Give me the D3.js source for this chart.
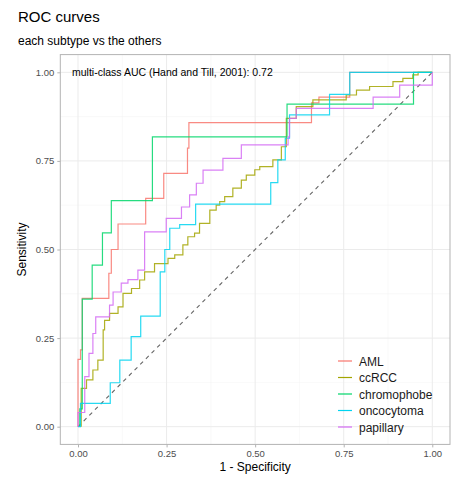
<!DOCTYPE html><html><head><script src="https://cdn.jsdelivr.net/npm/d3@7"></script>
<style>body{margin:0;background:#fff}text{font-family:"Liberation Sans",Arial,sans-serif}</style></head><body><svg id="c" width="474" height="487"></svg>
<script>
const categories=["AML","ccRCC","chromophobe","oncocytoma","papillary"];
const colors=["#F8766D","#A3A500","#00D66A","#00D4F0","#D46BF3"];
const xTicks=[0,0.25,0.5,0.75,1], xTickLabels=["0.00","0.25","0.50","0.75","1.00"];
const yTicks=[0,0.25,0.5,0.75,1], yTickLabels=["0.00","0.25","0.50","0.75","1.00"];
// step points: [fpr where jump occurs, new sensitivity]
const AML=[[0,0],[0,0.19],[0.007,0.217],[0.012,0.362],[0.087,0.362],[0.087,0.433],[0.094,0.5],[0.113,0.572],[0.191,0.644],[0.242,0.715],[0.309,0.786],[0.313,0.858],[0.659,0.914],[0.68,0.93],[0.767,1],[1,1]];
const ccRCC=[[0.009,0],[0.009,0.108],[0.024,0.132],[0.042,0.16],[0.056,0.188],[0.071,0.273],[0.075,0.3],[0.089,0.32],[0.113,0.338],[0.127,0.376],[0.151,0.39],[0.174,0.414],[0.188,0.437],[0.216,0.46],[0.254,0.475],[0.273,0.485],[0.296,0.513],[0.31,0.536],[0.329,0.546],[0.343,0.574],[0.372,0.611],[0.39,0.625],[0.40,0.635],[0.414,0.649],[0.437,0.673],[0.461,0.696],[0.475,0.71],[0.499,0.725],[0.513,0.734],[0.55,0.753],[0.574,0.79],[0.588,0.87],[0.616,0.903],[0.663,0.922],[0.757,0.936],[0.786,0.95],[0.823,0.96],[0.889,0.974],[0.917,0.983],[0.945,0.993],[0.96,1],[1,1]];
const chromophobe=[[0.005,0],[0.005,0.05],[0.012,0.2],[0.012,0.36],[0.040,0.456],[0.069,0.547],[0.094,0.638],[0.21,0.818],[0.59,0.818],[0.59,0.91],[0.947,0.91],[0.947,1],[1,1]];
const oncocytoma=[[0,0],[0.007,0.066],[0.091,0.066],[0.091,0.124],[0.118,0.188],[0.15,0.254],[0.177,0.312],[0.232,0.437],[0.245,0.5],[0.259,0.56],[0.287,0.57],[0.332,0.628],[0.544,0.689],[0.564,0.753],[0.585,0.814],[0.597,0.88],[0.71,0.938],[0.767,1],[1,1]];
const papillary=[[0,0],[0,0.04],[0.019,0.141],[0.031,0.207],[0.042,0.263],[0.05,0.31],[0.089,0.343],[0.099,0.38],[0.122,0.405],[0.141,0.415],[0.169,0.442],[0.188,0.55],[0.249,0.588],[0.292,0.62],[0.315,0.654],[0.334,0.687],[0.353,0.724],[0.409,0.757],[0.461,0.795],[0.593,0.818],[0.597,0.87],[0.616,0.898],[0.833,0.93],[0.908,0.964],[1,1]];
const series=[AML,ccRCC,chromophobe,oncocytoma,papillary];
const svg=d3.select("#c");
const L=60.3,R=450,T=54.6,B=444.4;
const x=d3.scaleLinear().domain([-0.05,1.05]).range([L,R]);
const y=d3.scaleLinear().domain([-0.05,1.05]).range([B,T]);
svg.append("rect").attr("x",L).attr("y",T).attr("width",R-L).attr("height",B-T).attr("fill","#fff");
const minor=[0.125,0.375,0.625,0.875];
minor.forEach(v=>{svg.append("line").attr("x1",x(v)).attr("x2",x(v)).attr("y1",T).attr("y2",B).attr("stroke","#f2f2f2").attr("stroke-width",0.5);
svg.append("line").attr("y1",y(v)).attr("y2",y(v)).attr("x1",L).attr("x2",R).attr("stroke","#f2f2f2").attr("stroke-width",0.5);});
xTicks.forEach(v=>svg.append("line").attr("x1",x(v)).attr("x2",x(v)).attr("y1",T).attr("y2",B).attr("stroke","#ebebeb").attr("stroke-width",1));
yTicks.forEach(v=>svg.append("line").attr("y1",y(v)).attr("y2",y(v)).attr("x1",L).attr("x2",R).attr("stroke","#ebebeb").attr("stroke-width",1));
svg.append("line").attr("x1",x(0)).attr("y1",y(0)).attr("x2",x(1)).attr("y2",y(1)).attr("stroke","#666").attr("stroke-width",1.1).attr("stroke-dasharray","4,4");
const line=d3.line().x(d=>x(d[0])).y(d=>y(d[1])).curve(d3.curveStepAfter);
series.forEach((s,i)=>svg.append("path").attr("d",line(s)).attr("fill","none").attr("stroke",colors[i]).attr("stroke-width",1.2).attr("opacity",0.85));
svg.append("rect").attr("x",L).attr("y",T).attr("width",R-L).attr("height",B-T).attr("fill","none").attr("stroke","#b3b3b3").attr("stroke-width",1);
const xa=svg.append("g").attr("transform",`translate(0,${B})`).call(d3.axisBottom(x).tickValues(xTicks).tickFormat((d,i)=>xTickLabels[i]).tickSize(3).tickPadding(3));
const ya=svg.append("g").attr("transform",`translate(${L},0)`).call(d3.axisLeft(y).tickValues(yTicks).tickFormat((d,i)=>yTickLabels[i]).tickSize(3).tickPadding(3));
[xa,ya].forEach(a=>{a.select(".domain").remove();a.selectAll("line").attr("stroke","#b3b3b3");a.selectAll("text").attr("fill","#4d4d4d").style("font-size","9.5px").style("font-family","Liberation Sans, Arial");});
svg.append("text").attr("x",18).attr("y",22).text("ROC curves").style("font-size","15px").attr("fill","#000");
svg.append("text").attr("x",18).attr("y",45).text("each subtype vs the others").style("font-size","12px").attr("fill","#000");
svg.append("text").attr("x",72).attr("y",76).text("multi-class AUC (Hand and Till, 2001): 0.72").style("font-size","10.5px").attr("fill","#000");
svg.append("text").attr("x",(L+R)/2).attr("y",471).attr("text-anchor","middle").text("1 - Specificity").style("font-size","12px");
svg.append("text").attr("transform",`translate(26,${(T+B)/2}) rotate(-90)`).attr("text-anchor","middle").text("Sensitivity").style("font-size","12px");
categories.forEach((c,i)=>{const yy=361+i*16.5;
svg.append("line").attr("x1",338).attr("x2",352).attr("y1",yy).attr("y2",yy).attr("stroke",colors[i]).attr("stroke-width",1.2);
svg.append("text").attr("x",359).attr("y",yy+4.5).text(c).style("font-size","12px").attr("fill","#1a1a1a");});
</script></body></html>
